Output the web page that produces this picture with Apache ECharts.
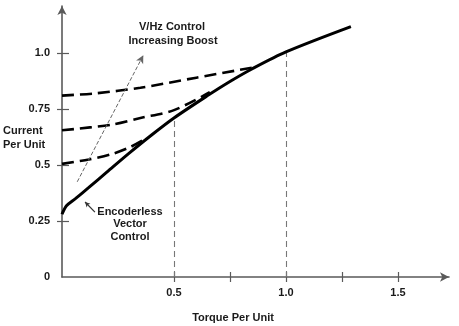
<!DOCTYPE html>
<html>
<head>
<meta charset="utf-8">
<script src="https://cdn.jsdelivr.net/npm/echarts@6/dist/echarts.min.js"></script>
<style>
  html, body { margin: 0; padding: 0; background: #fff; }
  #chart { width: 459px; height: 326px; }
</style>
</head>
<body>
<div id="chart"></div>
<script>
// Torque (per unit) vs current (per unit)
const encoderlessVector = [
  [0, 0.28], [0.02, 0.318], [0.06, 0.35], [0.12, 0.4], [0.2, 0.468], [0.3, 0.553],
  [0.4, 0.634], [0.5, 0.71], [0.65, 0.81], [0.75, 0.873], [0.85, 0.93],
  [1.0, 1.005], [1.29, 1.118]
];
const boostHigh = [[0, 0.81], [0.15, 0.82], [0.35, 0.845], [0.6, 0.89], [0.85, 0.935]];
const boostMid  = [[0, 0.655], [0.22, 0.68], [0.35, 0.71], [0.5, 0.745], [0.66, 0.825]];
const boostLow  = [[0, 0.505], [0.12, 0.525], [0.22, 0.548], [0.3, 0.578], [0.36, 0.61]];

// reference drop lines: [torque, current]
const dropLines = [[0.5, 0.71], [1.0, 1.005]];
// "increasing boost" arrow: start, end
const boostArrow = [[0.068, 0.425], [0.363, 0.99]];
// leader from the vector-control label to its curve
const vectorLeader = [[0.147, 0.29], [0.103, 0.335]];

const xTicks = [0.5, 0.75, 1.0, 1.25, 1.5];
const xLabels = [0.5, 1.0, 1.5];
const yTicks = [0.25, 0.5, 0.75, 1.0];
const yLabels = ['0', '0.25', '0.5', '0.75', '1.0'];

const X_MAX = 1.728, Y_MAX = 1.21;
const FONT = '"Liberation Sans", Arial, sans-serif';
const AXIS_COLOR = '#5a5a5a';

const chart = echarts.init(document.getElementById('chart'), null, { renderer: 'canvas' });

const baseX = {
  type: 'value', min: 0, max: X_MAX, position: 'bottom',
  splitLine: { show: false },
  axisLine: { show: true, onZero: false, lineStyle: { color: AXIS_COLOR, width: 1.6 } },
  axisTick: { show: true, customValues: xTicks, length: 5, lineStyle: { color: AXIS_COLOR, width: 1.2 } },
  axisLabel: { show: false }
};
const baseY = {
  type: 'value', min: 0, max: Y_MAX, position: 'left',
  splitLine: { show: false },
  axisLine: { show: true, onZero: false, lineStyle: { color: AXIS_COLOR, width: 1.6 } },
  axisTick: { show: true, customValues: yTicks, length: 5, lineStyle: { color: AXIS_COLOR, width: 1.2 } },
  axisLabel: { show: false }
};

const labelText = { fontFamily: FONT, fontWeight: 'bold', fontSize: 11, color: '#1a1a1a' };

function text(x, y, str, align) {
  return {
    type: 'text', x: x, y: y, silent: true,
    style: {
      text: str, font: 'bold 11px ' + FONT, fill: '#1a1a1a',
      textAlign: align || 'center', textVerticalAlign: 'middle'
    }
  };
}

const dashedStyle = { color: '#000', width: 2.6, type: [12, 6] };
const curve = { smooth: 0.3, showSymbol: false, silent: true };

chart.setOption({
  animation: false,
  backgroundColor: '#fff',
  grid: { left: 62, right: 10, top: 6, bottom: 49, containLabel: false },
  xAxis: [
    Object.assign({}, baseX, {
      axisLine: Object.assign({}, baseX.axisLine, { symbol: ['none', 'arrow'], symbolSize: [7, 9] }),
      axisLabel: Object.assign({}, labelText, {
        show: true, margin: 10, customValues: xLabels,
        formatter: v => v.toFixed(1)
      })
    }),
    Object.assign({}, baseX, {
      axisLine: { show: false, onZero: false },
      axisTick: Object.assign({}, baseX.axisTick, { inside: true })
    })
  ],
  yAxis: [
    Object.assign({}, baseY, {
      axisLine: Object.assign({}, baseY.axisLine, { symbol: ['none', 'arrow'], symbolSize: [7, 9] }),
      axisLabel: Object.assign({}, labelText, {
        show: true, margin: 12, customValues: [0, 0.25, 0.5, 0.75, 1.0],
        formatter: v => yLabels[Math.round(v * 4)]
      })
    }),
    Object.assign({}, baseY, {
      axisLine: { show: false, onZero: false },
      axisTick: Object.assign({}, baseY.axisTick, { inside: true, length: 7 })
    })
  ],
  series: [
    Object.assign({
      name: 'Encoderless Vector Control', type: 'line', data: encoderlessVector, z: 5,
      lineStyle: { color: '#000', width: 3 },
      markLine: {
        silent: true, animation: false,
        label: { show: false },
        symbol: ['none', 'none'],
        data: [
          ...dropLines.map(p => [
            { coord: [p[0], 0], lineStyle: { color: '#777', width: 1.1, type: [6, 4] } },
            { coord: [p[0], p[1]] }
          ]),
          [
            { coord: boostArrow[0], symbol: 'none',
              lineStyle: { color: '#666', width: 1, type: [4, 2] } },
            { coord: boostArrow[1], symbol: 'arrow', symbolSize: [6, 8] }
          ],
          [
            { coord: vectorLeader[0], symbol: 'none',
              lineStyle: { color: '#333', width: 1.2, type: 'solid', curveness: 0.4 } },
            { coord: vectorLeader[1], symbol: 'arrow', symbolSize: [4, 5] }
          ]
        ]
      }
    }, curve),
    Object.assign({ name: 'Boost high', type: 'line', data: boostHigh, lineStyle: dashedStyle }, curve),
    Object.assign({ name: 'Boost mid', type: 'line', data: boostMid, lineStyle: dashedStyle }, curve),
    Object.assign({ name: 'Boost low', type: 'line', data: boostLow, lineStyle: dashedStyle }, curve)
  ],
  graphic: [
    text(172, 27, 'V/Hz Control'),
    text(173, 41, 'Increasing Boost'),
    text(130, 212, 'Encoderless'),
    text(130, 224, 'Vector'),
    text(130, 237, 'Control'),
    text(3, 131, 'Current', 'left'),
    text(3, 145, 'Per Unit', 'left'),
    text(233, 318, 'Torque Per Unit')
  ]
});
</script>
</body>
</html>
